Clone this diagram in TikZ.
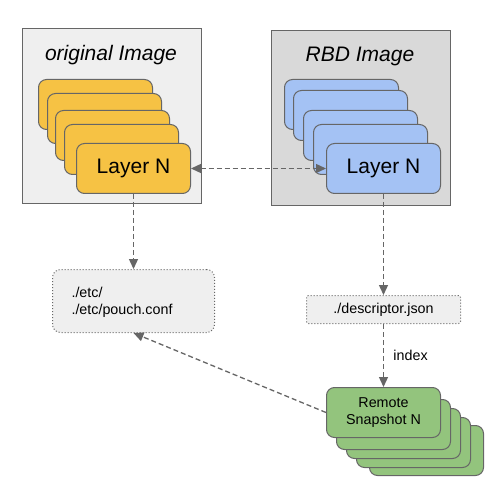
\documentclass[tikz,border=0pt]{standalone}
\usepackage{fontspec}
\setmainfont{Liberation Sans}
\usetikzlibrary{arrows.meta}
\definecolor{cyellow}{HTML}{F6C244}
\definecolor{cblue}{HTML}{A4C2F4}
\definecolor{cgreen}{HTML}{93C47D}
\definecolor{cline}{HTML}{666666}
\definecolor{cfillL}{HTML}{EFEFEF}
\definecolor{cfillR}{HTML}{D9D9D9}
\tikzset{
  container/.style={draw=cline, line width=1.2pt},
  layerbox/.style={draw=cline, line width=1pt, rounded corners=8pt, minimum width=114pt, minimum height=50pt, inner sep=0pt, anchor=north west},
  conn/.style={draw=cline, line width=1.3pt, dash pattern=on 5pt off 3pt, -{Triangle[length=10pt,width=9pt]}},
  filebox/.style={draw=cline, line width=1pt, dotted, fill=cfillL, inner sep=0pt, anchor=north west},
  title/.style={font=\fontsize{21}{24}\selectfont\itshape},
  bigtext/.style={font=\fontsize{21}{24}\selectfont},
  smalltext/.style={font=\fontsize{14.3}{17}\selectfont},
}
\begin{document}
\begin{tikzpicture}[x=1pt,y=-1pt]
\useasboundingbox (0,0) rectangle (499,487);
% containers
\node[container, fill=cfillL, minimum width=179pt, minimum height=175pt, anchor=north west, inner sep=0pt] (contL) at (22,28) {};
\node[container, fill=cfillR, minimum width=179pt, minimum height=175pt, anchor=north west, inner sep=0pt] (contR) at (271,30) {};
\node[title] (titleL) at (111,55) {original Image};
\node[title] (titleR) at (360,56) {RBD Image};
% yellow layers
\node[layerbox, fill=cyellow] (yl1) at (38,79) {};
\node[layerbox, fill=cyellow] (yl2) at (47,93) {};
\node[layerbox, fill=cyellow] (yl3) at (55,110) {};
\node[layerbox, fill=cyellow] (yl4) at (64,124) {};
\node[layerbox, fill=cyellow, bigtext] (layerNL) at (76,143) {Layer N};
% blue layers
\node[layerbox, fill=cblue] (bl1) at (284,79) {};
\node[layerbox, fill=cblue] (bl2) at (293,90) {};
\node[layerbox, fill=cblue] (bl3) at (303,110) {};
\node[layerbox, fill=cblue] (bl4) at (313,124) {};
\node[layerbox, fill=cblue, bigtext] (layerNR) at (326,143) {Layer N};
% green layers (back to front)
\node[layerbox, fill=cgreen] (gl5) at (369,425) {};
\node[layerbox, fill=cgreen] (gl4) at (356,417) {};
\node[layerbox, fill=cgreen] (gl3) at (346,408) {};
\node[layerbox, fill=cgreen] (gl2) at (336,399) {};
\node[layerbox, fill=cgreen, smalltext, align=center] (snapN) at (326,387) {Remote\\Snapshot N};
% file boxes
\node[filebox, rounded corners=8pt, minimum width=162pt, minimum height=63pt] (etc) at (52,269) {};
\node[smalltext, align=left, anchor=west] (etctext) at (68,302) {./etc/\\./etc/pouch.conf};
\node[filebox, rounded corners=2pt, minimum width=154pt, minimum height=28pt, smalltext] (desc) at (306,295) {./descriptor.json};
% connectors
\draw[conn, {Triangle[length=10pt,width=9pt]}-{Triangle[length=10pt,width=9pt]}] (layerNL.east) -- (layerNR.west);
\draw[conn] (layerNL.south) -- (etc.north);
\draw[conn] (layerNR.south) -- (desc.north);
\draw[conn] (desc.south) -- node[right=6pt, smalltext, text=black] (idx) {index} (snapN.north);
\draw[conn] (snapN.west) -- (etc.south);
\end{tikzpicture}
\end{document}
